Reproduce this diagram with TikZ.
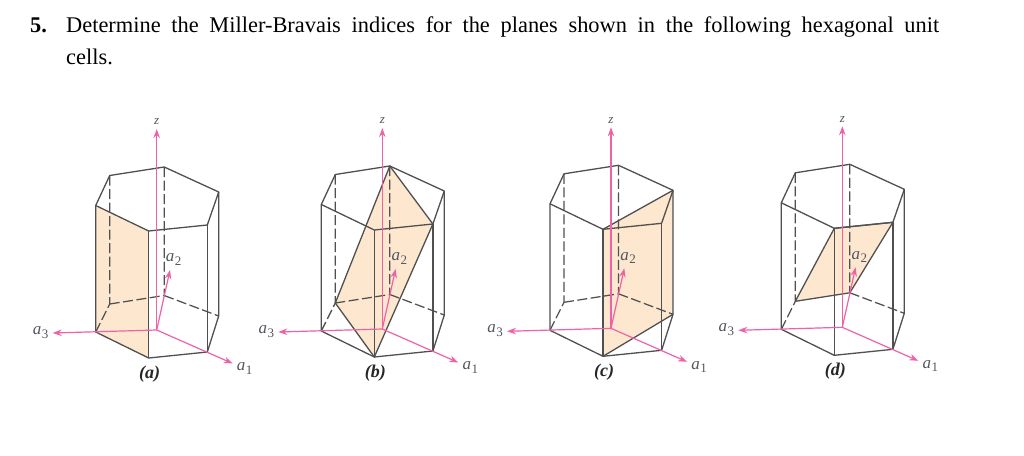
\documentclass[tikz,border=0pt]{standalone}
\usepackage{fontspec}
\setmainfont{Liberation Serif}
\usetikzlibrary{arrows.meta}
\definecolor{pinkaxis}{HTML}{EE62A8}
\definecolor{planefill}{HTML}{FDE7CF}
\definecolor{edgegray}{HTML}{505050}
\definecolor{labelgray}{HTML}{55555F}
\tikzset{
  edge/.style={draw=edgegray,line width=1.3pt,line join=round},
  hidden/.style={draw=edgegray,line width=1.25pt,dash pattern=on 10pt off 3.5pt},
  plane/.style={fill=planefill,draw=none},
  axis/.style={draw=pinkaxis,line width=1.2pt,-{Stealth[length=9pt,width=6.5pt]}},
  axlabel/.style={text=labelgray,font=\fontsize{17}{19}\selectfont\itshape,inner sep=0pt},
  zlabel/.style={text=labelgray,font=\fontsize{13}{15}\selectfont\itshape,inner sep=0pt},
  caption/.style={font=\fontsize{18}{20}\selectfont\bfseries\itshape,text=black!85,inner sep=0pt},
  headline/.style={font=\fontsize{22.4}{26}\selectfont,anchor=base west,inner sep=0pt,text=black}
}
% unit-cell corner points relative to the origin O of the axes
\newcommand{\cellpoints}{%
  \coordinate (O) at (0,0);
  \coordinate (bL) at (-61,2); \coordinate (bF) at (-8,28);
  \coordinate (bR) at (50.6,22); \coordinate (bP) at (62,-14);
  \coordinate (bB) at (7.5,-34.5); \coordinate (bQ) at (-47,-26);
  \coordinate (tL) at (-61,-124.5); \coordinate (tF) at (-8,-99);
  \coordinate (tR) at (50.6,-105); \coordinate (tP) at (62,-138);
  \coordinate (tB) at (7.5,-163); \coordinate (tQ) at (-47,-154.5);
  \coordinate (zE) at (0,-201); \coordinate (a1E) at (76,33.5);
  \coordinate (a2E) at (13.3,-60); \coordinate (a3E) at (-104,3);
}
\newcommand{\cellframe}{%
  \draw[edge] (tL)--(tF)--(tR)--(tP)--(tB)--(tQ)--cycle;
  \draw[edge] (tL)--(bL)--(bF)--(bR)--(bP)--(tP);
  \draw[edge] (tF)--(bF) (tR)--(bR);
  \draw[hidden] (tB)--(bB) (tQ)--(bQ) (bL)--(bQ);
  \draw[hidden] (bB)--(bP);
}
\newcommand{\axsub}[1]{a\kern0.5pt\raisebox{-3.5pt}{\fontsize{13}{15}\selectfont\upshape #1}}
\newcommand{\cellaxes}[1]{%
  \draw[axis] (O)--(zE);
  \draw[axis] (O)--(a1E);
  \draw[axis] (O)--(a2E);
  \draw[axis] (O)--(a3E);
  \node[zlabel] (lz) at (0,-208) {z};
  \node[axlabel] (la1) at (88,38.5) {\axsub{1}};
  \node[axlabel] (la2) at (17,-70.5) {\axsub{2}};
  \node[axlabel] (la3) at (-116,2.5) {\axsub{3}};
  \node[caption] (cap) at (-7,44) {(#1)};
}
\begin{document}
\begin{tikzpicture}[x=1pt,y=-1pt]
\useasboundingbox (0,0) rectangle (1024,455);
\fill[white] (0,0) rectangle (1024,455);
\node[headline] (num) at (30,32) {\textbf{5.}};
\node[headline] (line1) at (66,32) {\hbox to 873pt{Determine\hfil the\hfil Miller-Bravais\hfil indices\hfil for\hfil the\hfil planes\hfil shown\hfil in\hfil the\hfil following\hfil hexagonal\hfil unit}};
\node[headline] (line2) at (66,64) {cells.};
% (a)
\begin{scope}[shift={(156.7,330)}]
\cellpoints
\fill[plane] (tL)--(tF)--(bF)--(bL)--cycle;
\cellframe
\draw[hidden] (bQ)--(bB);
\cellaxes{a}
\end{scope}
% (b)
\begin{scope}[shift={(382.3,329)}]
\cellpoints
\fill[plane] (tB)--(tR)--(bF)--(bQ)--cycle;
\cellframe
\draw[hidden] (bQ)--(bB);
\draw[edge] (tB)--(tR)--(bF)--(bQ)--cycle;
\cellaxes{b}
\end{scope}
% (c)
\begin{scope}[shift={(611,328.3)}]
\cellpoints
\fill[plane] (tF)--(tP)--(bP)--(bF)--cycle;
\cellframe
\draw[hidden] (bQ)--(bB);
\draw[edge] (tF)--(tP) (bF)--(bP);
\cellaxes{c}
\end{scope}
% (d)
\begin{scope}[shift={(842.3,327.3)}]
\cellpoints
\fill[plane] (tF)--(tR)--(bB)--(bQ)--cycle;
\cellframe
\draw[edge] (tF)--(tR)--(bB)--(bQ)--cycle;
\cellaxes{d}
\end{scope}
\end{tikzpicture}
\end{document}
